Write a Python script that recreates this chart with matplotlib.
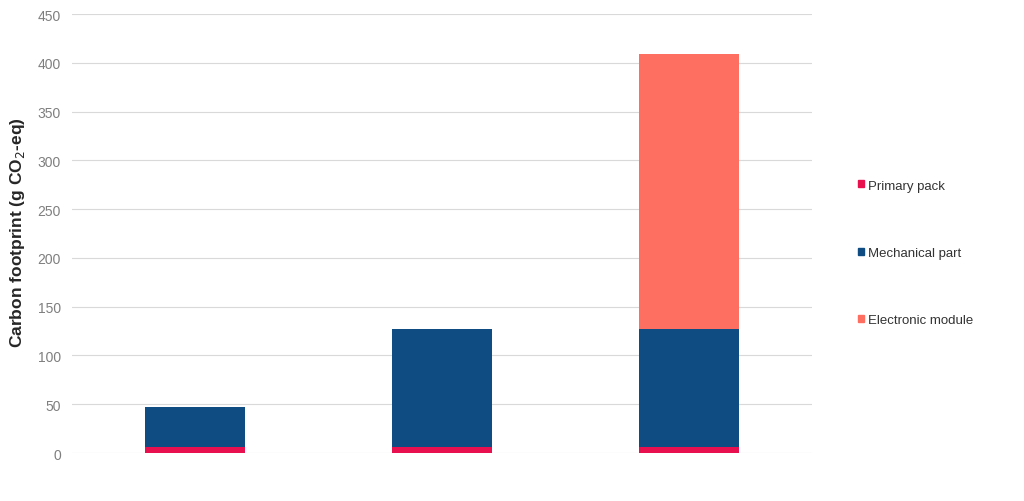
import matplotlib
matplotlib.use("Agg")
import matplotlib.pyplot as plt
from matplotlib.patches import Patch
import numpy as np

plt.rcParams['font.family'] = ['Liberation Sans', 'DejaVu Sans']

categories = ["A", "B", "C"]
primary_pack = [6.5, 6.5, 6.5]
mechanical_part = [41, 121, 121]
electronic_module = [0, 0, 282]
series_names = ["Primary pack", "Mechanical part", "Electronic module"]
colors = ["#E8104F", "#0F4C81", "#FF6F61"]

fig = plt.figure(figsize=(10.24, 5.02), dpi=100)
ax = fig.add_axes([0.0703, 0.0956, 0.7227, 0.8745])

x = np.arange(len(categories))
w = 0.405
b1 = np.array(primary_pack)
b2 = b1 + np.array(mechanical_part)
ax.bar(x, primary_pack, w, color=colors[0], zorder=3)
ax.bar(x, mechanical_part, w, bottom=b1, color=colors[1], zorder=3)
ax.bar(x, electronic_module, w, bottom=b2, color=colors[2], zorder=3)

ax.set_xlim(-0.5, 2.5)
ax.set_ylim(0, 450)
ax.set_yticks(np.arange(0, 451, 50))
ax.set_xticks([])
ax.grid(axis='y', color='#D9D9D9', linewidth=0.8, zorder=0)
for s in ax.spines.values():
    s.set_visible(False)
ax.tick_params(axis='y', length=0, pad=8, labelsize=10, labelcolor='#7F7F7F')
ax.set_ylabel("Carbon footprint (g CO$_2$-eq)", fontsize=12.5, fontweight='bold', color='#262626')
ax.yaxis.set_label_coords(-0.061, 0.505)

handles = [Patch(color=c, label=n) for c, n in zip(colors, series_names)]
fig.legend(handles=handles, loc='center left', bbox_to_anchor=(0.826, 0.494), frameon=False,
           handlelength=0.45, handleheight=0.45, handletextpad=0.35, labelspacing=4.2,
           fontsize=9.5, labelcolor='#333333')

fig.savefig("out.png", dpi=100)
